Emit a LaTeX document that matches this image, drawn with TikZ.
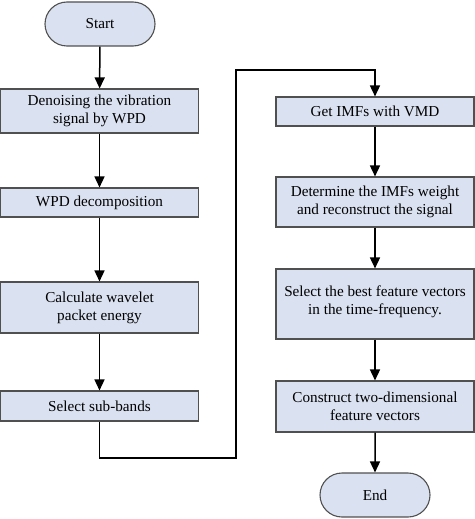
\documentclass[tikz,border=0pt]{standalone}
\usepackage{fontspec}
\setmainfont{Liberation Serif}
\usetikzlibrary{arrows.meta,positioning,shapes.misc}
\definecolor{boxfill}{HTML}{DAE1F0}
\definecolor{boxline}{HTML}{505050}
\begin{document}
\begin{tikzpicture}[x=1pt,y=-1pt,
  every node/.style={font=\fontsize{15.2}{17.8}\selectfont, align=center, inner sep=0pt},
  procbox/.style={draw=boxline, fill=boxfill, line width=1.1pt, minimum width=198pt},
  termbox/.style={draw=boxline, fill=boxfill, line width=1.1pt, rounded rectangle, minimum width=110pt, minimum height=44pt},
  flow/.style={line width=1.5pt, -{Triangle[width=10pt,length=11pt]}}
]
\useasboundingbox (0,0) rectangle (474,519);
\node[termbox] (start) at (100,24) {Start};
\node[procbox, minimum height=44pt] (b1) at (99.5,111) {Denoising the vibration\\signal by WPD};
\node[procbox, minimum height=29pt] (b2) at (99.5,202.5) {WPD decomposition};
\node[procbox, minimum height=51pt] (b3) at (99.5,307.5) {Calculate wavelet\\packet energy};
\node[procbox, minimum height=30pt] (b4) at (99.5,406) {Select sub-bands};
\node[procbox, minimum height=29pt] (b5) at (375,111.5) {Get IMFs with VMD};
\node[procbox, minimum height=50pt] (b6) at (375,202) {Determine the IMFs weight\\and reconstruct the signal};
\node[procbox, minimum height=70pt] (b7) at (375,304) {\raisebox{18pt}{\begin{tabular}{@{}c@{}}Select the best feature vectors\\in the time-frequency.\end{tabular}}};
\node[procbox, minimum height=51pt] (b8) at (375,406.5) {Construct two-dimensional\\feature vectors};
\node[termbox] (end) at (375,495) {End};
\coordinate (c1) at (236,458);
\coordinate (c2) at (236,70);
\draw[flow] (start) -- (b1);
\draw[flow] (b1) -- (b2);
\draw[flow] (b2) -- (b3);
\draw[flow] (b3) -- (b4);
\draw[flow] (b4.south) |- (c1) -- (c2) -| (b5.north);
\draw[flow] (b5) -- (b6);
\draw[flow] (b6) -- (b7);
\draw[flow] (b7) -- (b8);
\draw[flow] (b8) -- (end);
\end{tikzpicture}
\end{document}
